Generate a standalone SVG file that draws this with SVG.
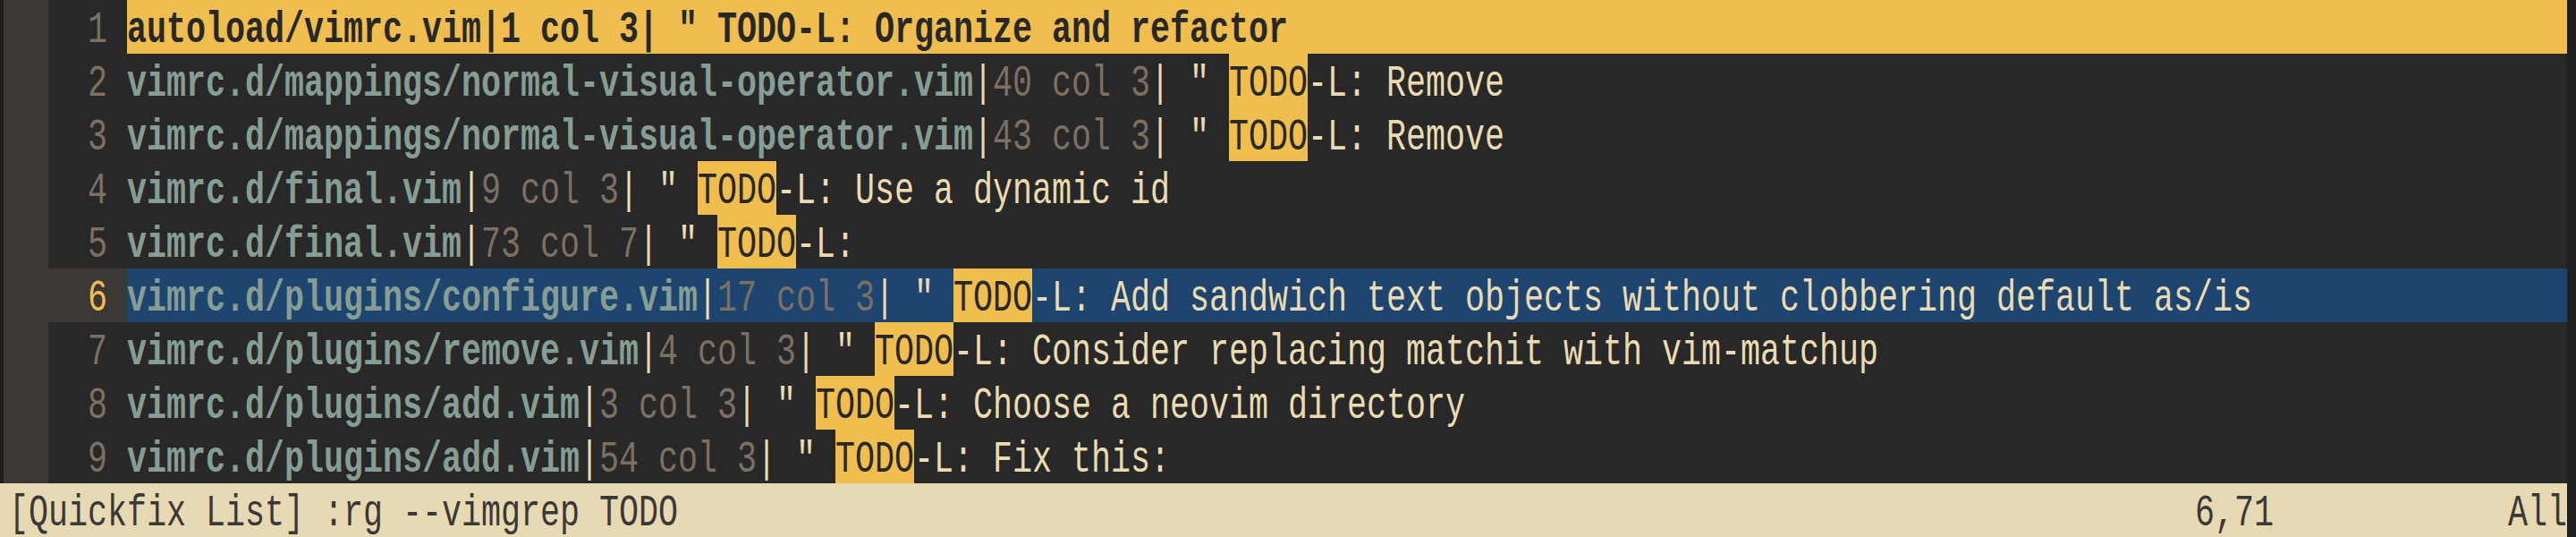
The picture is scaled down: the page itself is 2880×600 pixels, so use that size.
<svg xmlns="http://www.w3.org/2000/svg" width="2880" height="600" viewBox="0 0 2880 600">
<style>
text{font-family:"Liberation Mono","DejaVu Sans Mono",monospace;font-size:50px;}
.fn{fill:#869d94;font-weight:bold}
.p{fill:#ebdbb2}
.n{fill:#7c6f64}
.t{fill:#ebdbb2}
.td{fill:#282828}
.ln{fill:#7c6f64}
.hl{fill:#f0bd4f}
.st{fill:#3c3836}
.b1{fill:#282828;font-weight:bold}
</style>
<rect x="0" y="0" width="2880" height="600" fill="#282828"/>
<rect x="0" y="0" width="4" height="540" fill="#1e1e1e"/>
<rect x="4" y="0" width="50" height="540" fill="#3c3836"/>
<rect x="2870" y="0" width="10" height="600" fill="#202020"/>
<g id="line1">
<rect x="142" y="0" width="2728" height="60" fill="#f0bd4f"/>
<text class="ln" x="98" y="47" textLength="22" lengthAdjust="spacingAndGlyphs">1</text>
<text class="b1" x="142" y="47" textLength="1298" lengthAdjust="spacingAndGlyphs">autoload/vimrc.vim|1 col 3| &quot; TODO-L: Organize and refactor</text>
</g>
<g id="line2">
<rect x="1374" y="60" width="88" height="60" fill="#f0bd4f"/>
<text class="ln" x="98" y="107" textLength="22" lengthAdjust="spacingAndGlyphs">2</text>
<text class="fn" x="142" y="107" textLength="946" lengthAdjust="spacingAndGlyphs">vimrc.d/mappings/normal-visual-operator.vim</text>
<text class="p" x="1088" y="107" textLength="22" lengthAdjust="spacingAndGlyphs">|</text>
<text class="n" x="1110" y="107" textLength="176" lengthAdjust="spacingAndGlyphs">40 col 3</text>
<text class="p" x="1286" y="107" textLength="22" lengthAdjust="spacingAndGlyphs">|</text>
<text class="t" x="1330" y="107" textLength="22" lengthAdjust="spacingAndGlyphs">&quot;</text>
<text class="td" x="1374" y="107" textLength="88" lengthAdjust="spacingAndGlyphs">TODO</text>
<text class="t" x="1462" y="107" textLength="220" lengthAdjust="spacingAndGlyphs">-L: Remove</text>
</g>
<g id="line3">
<rect x="1374" y="120" width="88" height="60" fill="#f0bd4f"/>
<text class="ln" x="98" y="167" textLength="22" lengthAdjust="spacingAndGlyphs">3</text>
<text class="fn" x="142" y="167" textLength="946" lengthAdjust="spacingAndGlyphs">vimrc.d/mappings/normal-visual-operator.vim</text>
<text class="p" x="1088" y="167" textLength="22" lengthAdjust="spacingAndGlyphs">|</text>
<text class="n" x="1110" y="167" textLength="176" lengthAdjust="spacingAndGlyphs">43 col 3</text>
<text class="p" x="1286" y="167" textLength="22" lengthAdjust="spacingAndGlyphs">|</text>
<text class="t" x="1330" y="167" textLength="22" lengthAdjust="spacingAndGlyphs">&quot;</text>
<text class="td" x="1374" y="167" textLength="88" lengthAdjust="spacingAndGlyphs">TODO</text>
<text class="t" x="1462" y="167" textLength="220" lengthAdjust="spacingAndGlyphs">-L: Remove</text>
</g>
<g id="line4">
<rect x="780" y="180" width="88" height="60" fill="#f0bd4f"/>
<text class="ln" x="98" y="227" textLength="22" lengthAdjust="spacingAndGlyphs">4</text>
<text class="fn" x="142" y="227" textLength="374" lengthAdjust="spacingAndGlyphs">vimrc.d/final.vim</text>
<text class="p" x="516" y="227" textLength="22" lengthAdjust="spacingAndGlyphs">|</text>
<text class="n" x="538" y="227" textLength="154" lengthAdjust="spacingAndGlyphs">9 col 3</text>
<text class="p" x="692" y="227" textLength="22" lengthAdjust="spacingAndGlyphs">|</text>
<text class="t" x="736" y="227" textLength="22" lengthAdjust="spacingAndGlyphs">&quot;</text>
<text class="td" x="780" y="227" textLength="88" lengthAdjust="spacingAndGlyphs">TODO</text>
<text class="t" x="868" y="227" textLength="440" lengthAdjust="spacingAndGlyphs">-L: Use a dynamic id</text>
</g>
<g id="line5">
<rect x="802" y="240" width="88" height="60" fill="#f0bd4f"/>
<text class="ln" x="98" y="287" textLength="22" lengthAdjust="spacingAndGlyphs">5</text>
<text class="fn" x="142" y="287" textLength="374" lengthAdjust="spacingAndGlyphs">vimrc.d/final.vim</text>
<text class="p" x="516" y="287" textLength="22" lengthAdjust="spacingAndGlyphs">|</text>
<text class="n" x="538" y="287" textLength="176" lengthAdjust="spacingAndGlyphs">73 col 7</text>
<text class="p" x="714" y="287" textLength="22" lengthAdjust="spacingAndGlyphs">|</text>
<text class="t" x="758" y="287" textLength="22" lengthAdjust="spacingAndGlyphs">&quot;</text>
<text class="td" x="802" y="287" textLength="88" lengthAdjust="spacingAndGlyphs">TODO</text>
<text class="t" x="890" y="287" textLength="66" lengthAdjust="spacingAndGlyphs">-L:</text>
</g>
<g id="line6">
<rect x="54" y="300" width="88" height="60" fill="#3c3836"/>
<rect x="142" y="300" width="2728" height="60" fill="#1d4570"/>
<rect x="1066" y="300" width="88" height="60" fill="#f0bd4f"/>
<text class="hl" x="98" y="347" textLength="22" lengthAdjust="spacingAndGlyphs">6</text>
<text class="fn" x="142" y="347" textLength="638" lengthAdjust="spacingAndGlyphs">vimrc.d/plugins/configure.vim</text>
<text class="p" x="780" y="347" textLength="22" lengthAdjust="spacingAndGlyphs">|</text>
<text class="n" x="802" y="347" textLength="176" lengthAdjust="spacingAndGlyphs">17 col 3</text>
<text class="p" x="978" y="347" textLength="22" lengthAdjust="spacingAndGlyphs">|</text>
<text class="t" x="1022" y="347" textLength="22" lengthAdjust="spacingAndGlyphs">&quot;</text>
<text class="td" x="1066" y="347" textLength="88" lengthAdjust="spacingAndGlyphs">TODO</text>
<text class="t" x="1154" y="347" textLength="1364" lengthAdjust="spacingAndGlyphs">-L: Add sandwich text objects without clobbering default as/is</text>
</g>
<g id="line7">
<rect x="978" y="360" width="88" height="60" fill="#f0bd4f"/>
<text class="ln" x="98" y="407" textLength="22" lengthAdjust="spacingAndGlyphs">7</text>
<text class="fn" x="142" y="407" textLength="572" lengthAdjust="spacingAndGlyphs">vimrc.d/plugins/remove.vim</text>
<text class="p" x="714" y="407" textLength="22" lengthAdjust="spacingAndGlyphs">|</text>
<text class="n" x="736" y="407" textLength="154" lengthAdjust="spacingAndGlyphs">4 col 3</text>
<text class="p" x="890" y="407" textLength="22" lengthAdjust="spacingAndGlyphs">|</text>
<text class="t" x="934" y="407" textLength="22" lengthAdjust="spacingAndGlyphs">&quot;</text>
<text class="td" x="978" y="407" textLength="88" lengthAdjust="spacingAndGlyphs">TODO</text>
<text class="t" x="1066" y="407" textLength="1034" lengthAdjust="spacingAndGlyphs">-L: Consider replacing matchit with vim-matchup</text>
</g>
<g id="line8">
<rect x="912" y="420" width="88" height="60" fill="#f0bd4f"/>
<text class="ln" x="98" y="467" textLength="22" lengthAdjust="spacingAndGlyphs">8</text>
<text class="fn" x="142" y="467" textLength="506" lengthAdjust="spacingAndGlyphs">vimrc.d/plugins/add.vim</text>
<text class="p" x="648" y="467" textLength="22" lengthAdjust="spacingAndGlyphs">|</text>
<text class="n" x="670" y="467" textLength="154" lengthAdjust="spacingAndGlyphs">3 col 3</text>
<text class="p" x="824" y="467" textLength="22" lengthAdjust="spacingAndGlyphs">|</text>
<text class="t" x="868" y="467" textLength="22" lengthAdjust="spacingAndGlyphs">&quot;</text>
<text class="td" x="912" y="467" textLength="88" lengthAdjust="spacingAndGlyphs">TODO</text>
<text class="t" x="1000" y="467" textLength="638" lengthAdjust="spacingAndGlyphs">-L: Choose a neovim directory</text>
</g>
<g id="line9">
<rect x="934" y="480" width="88" height="60" fill="#f0bd4f"/>
<text class="ln" x="98" y="527" textLength="22" lengthAdjust="spacingAndGlyphs">9</text>
<text class="fn" x="142" y="527" textLength="506" lengthAdjust="spacingAndGlyphs">vimrc.d/plugins/add.vim</text>
<text class="p" x="648" y="527" textLength="22" lengthAdjust="spacingAndGlyphs">|</text>
<text class="n" x="670" y="527" textLength="176" lengthAdjust="spacingAndGlyphs">54 col 3</text>
<text class="p" x="846" y="527" textLength="22" lengthAdjust="spacingAndGlyphs">|</text>
<text class="t" x="890" y="527" textLength="22" lengthAdjust="spacingAndGlyphs">&quot;</text>
<text class="td" x="934" y="527" textLength="88" lengthAdjust="spacingAndGlyphs">TODO</text>
<text class="t" x="1022" y="527" textLength="286" lengthAdjust="spacingAndGlyphs">-L: Fix this:</text>
</g>
<g id="statusbar">
<rect x="0" y="540" width="2870" height="60" fill="#e6d9b3"/>
<text class="st" x="10" y="587" textLength="748" lengthAdjust="spacingAndGlyphs">[Quickfix List] :rg --vimgrep TODO</text>
<text class="st" x="2454" y="587" textLength="88" lengthAdjust="spacingAndGlyphs">6,71</text>
<text class="st" x="2804" y="587" textLength="66" lengthAdjust="spacingAndGlyphs">All</text>
</g>
<g id="connectors"/>
</svg>
